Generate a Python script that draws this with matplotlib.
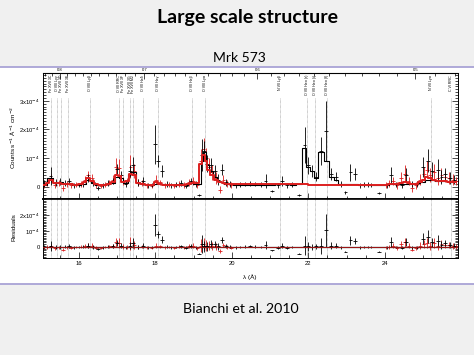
import numpy as np
import matplotlib
matplotlib.use("Agg")
import matplotlib.pyplot as plt
from matplotlib.patches import Rectangle
from matplotlib.lines import Line2D
from matplotlib.ticker import MultipleLocator, FixedLocator

# fluxes in units of 1e-4 counts s-1 A-1 cm-2, wavelengths in A (observed frame)
# RGS1 (black): wavelength, counts, error, model
lam_b = [15.10, 15.26, 15.40, 15.52, 15.63, 15.75, 15.88, 16.00, 16.12, 16.25,
         16.37, 16.50, 16.62, 16.75, 16.88, 17.00, 17.10, 17.22, 17.33, 17.42,
         17.55, 17.68, 17.80, 17.92, 18.00, 18.08, 18.18, 18.30, 18.42, 18.55,
         18.68, 18.80, 18.92, 19.05, 19.15, 19.22, 19.28, 19.35, 19.45, 19.55,
         19.65, 19.75, 19.85, 19.95, 20.10, 20.22, 20.35, 20.47, 20.60, 20.75,
         20.88, 21.05, 21.20, 21.32, 21.45, 21.58, 21.75, 21.90, 22.00, 22.10,
         22.20, 22.33, 22.47, 22.60, 22.72, 22.85, 22.97, 23.10, 23.22, 23.35,
         23.45, 23.55, 23.65, 23.85, 24.05, 24.17, 24.30, 24.45, 24.55, 24.70,
         24.85, 25.00, 25.12, 25.24, 25.38, 25.48, 25.58, 25.70, 25.82]
cnt_b = [0.10, 0.38, 0.15, 0.18, 0.12, 0.20, 0.05, 0.06, 0.10, 0.30,
         0.15, -0.05, 0.05, 0.12, 0.20, 0.62, 0.40, 0.10, 0.55, 0.75,
         0.15, 0.20, 0.05, 0.06, 1.48, 0.90, 0.55, 0.10, 0.05, 0.08,
         0.12, 0.03, 0.20, 0.10, -0.30, 1.10, 1.25, 0.80, 0.75, 0.55,
         0.25, 0.60, 0.15, 0.10, 0.05, 0.08, 0.10, 0.12, 0.10, 0.08,
         0.20, -0.15, 0.05, 0.20, 0.05, 0.08, -0.30, 1.45, 0.75, 0.55,
         0.35, 1.25, 1.95, 0.45, 0.35, 0.10, -0.20, 0.50, 0.45, 0.05,
         0.08, 0.08, 0.06, -0.22, 0.05, 0.40, 0.08, 0.05, 0.40, 0.10,
         0.10, 0.70, 0.90, 0.55, 0.60, 0.35, 0.45, 0.30, 0.25]
err_b = [0.12, 0.32, 0.12, 0.12, 0.10, 0.12, 0.08, 0.08, 0.10, 0.15,
         0.12, 0.06, 0.08, 0.10, 0.12, 0.18, 0.15, 0.10, 0.20, 0.30,
         0.12, 0.15, 0.08, 0.08, 0.68, 0.22, 0.20, 0.10, 0.08, 0.08,
         0.10, 0.08, 0.12, 0.10, 0.04, 0.55, 0.35, 0.30, 0.25, 0.20,
         0.20, 0.20, 0.12, 0.10, 0.08, 0.08, 0.08, 0.08, 0.08, 0.08,
         0.25, 0.04, 0.08, 0.18, 0.08, 0.08, 0.04, 0.62, 0.30, 0.20,
         0.15, 0.50, 1.05, 0.20, 0.15, 0.10, 0.04, 0.30, 0.20, 0.08,
         0.08, 0.08, 0.08, 0.03, 0.08, 0.30, 0.08, 0.08, 0.25, 0.10,
         0.10, 0.35, 0.40, 0.30, 0.35, 0.25, 0.20, 0.20, 0.15]
mod_b = [0.06, 0.32, 0.12, 0.15, 0.10, 0.12, 0.06, 0.06, 0.08, 0.22,
         0.12, 0.06, 0.06, 0.08, 0.12, 0.35, 0.30, 0.12, 0.45, 0.50,
         0.12, 0.10, 0.06, 0.06, 0.10, 0.08, 0.08, 0.06, 0.06, 0.06,
         0.06, 0.06, 0.12, 0.10, 0.10, 0.90, 1.20, 0.75, 0.55, 0.35,
         0.20, 0.15, 0.10, 0.08, 0.06, 0.06, 0.06, 0.06, 0.06, 0.06,
         0.06, 0.06, 0.08, 0.10, 0.08, 0.06, 0.10, 1.35, 0.70, 0.55,
         0.30, 1.20, 0.90, 0.35, 0.25, 0.10, 0.08, 0.08, 0.08, 0.06,
         0.06, 0.06, 0.06, 0.06, 0.06, 0.08, 0.08, 0.08, 0.10, 0.10,
         0.12, 0.18, 0.25, 0.25, 0.20, 0.20, 0.20, 0.18, 0.15]

# RGS2 (red): no data between 20 and 24 A (dead CCD)
lam_r = [15.08, 15.18, 15.28, 15.38, 15.48, 15.58, 15.68, 15.80, 15.92, 16.05,
         16.15, 16.25, 16.35, 16.45, 16.57, 16.68, 16.80, 16.90, 16.98, 17.06,
         17.15, 17.25, 17.35, 17.44, 17.55, 17.66, 17.78, 17.90, 18.02, 18.12,
         18.25, 18.37, 18.50, 18.62, 18.75, 18.87, 18.98, 19.10, 19.20, 19.26,
         19.32, 19.40, 19.48, 19.58, 19.68, 19.78, 19.88, 19.98,
         24.02, 24.12, 24.22, 24.32, 24.42, 24.52, 24.62, 24.72, 24.82, 24.92,
         25.02, 25.10, 25.18, 25.28, 25.38, 25.48, 25.58, 25.68, 25.78, 25.86]
cnt_r = [0.05, 0.15, 0.30, 0.05, 0.12, -0.05, 0.10, 0.05, 0.08, 0.10,
         0.25, 0.40, 0.30, 0.05, 0.02, 0.08, 0.15, 0.25, 0.70, 0.65,
         0.20, 0.20, 0.70, 0.55, 0.15, 0.12, 0.05, 0.02, 0.25, 0.15,
         0.05, 0.08, 0.02, 0.10, 0.05, 0.15, 0.20, 0.05, 0.90, 1.30,
         1.00, 0.70, 0.50, 0.30, -0.10, 0.25, 0.10, 0.05,
         0.05, 0.10, 0.20, 0.05, 0.30, 0.45, 0.20, -0.05, 0.05, 0.25,
         0.45, 0.60, 0.40, 0.50, 0.30, 0.40, 0.35, 0.30, 0.25, 0.20]
err_r = [0.10, 0.12, 0.15, 0.10, 0.10, 0.10, 0.10, 0.08, 0.08, 0.10,
         0.12, 0.15, 0.15, 0.08, 0.08, 0.08, 0.10, 0.15, 0.30, 0.30,
         0.15, 0.12, 0.40, 0.25, 0.12, 0.10, 0.08, 0.08, 0.15, 0.10,
         0.08, 0.08, 0.08, 0.10, 0.10, 0.12, 0.15, 0.10, 0.40, 0.40,
         0.35, 0.30, 0.25, 0.20, 0.12, 0.15, 0.12, 0.10,
         0.10, 0.12, 0.15, 0.12, 0.20, 0.30, 0.15, 0.12, 0.12, 0.20,
         0.25, 0.30, 0.25, 0.30, 0.25, 0.25, 0.20, 0.20, 0.20, 0.15]
mod_r = [0.05, 0.12, 0.25, 0.12, 0.12, 0.10, 0.10, 0.08, 0.06, 0.08,
         0.18, 0.30, 0.20, 0.08, 0.06, 0.06, 0.10, 0.18, 0.40, 0.38,
         0.18, 0.20, 0.45, 0.40, 0.12, 0.10, 0.06, 0.06, 0.15, 0.10,
         0.06, 0.06, 0.06, 0.06, 0.06, 0.10, 0.12, 0.12, 0.80, 1.10,
         0.90, 0.60, 0.40, 0.25, 0.15, 0.12, 0.10, 0.08,
         0.06, 0.08, 0.10, 0.08, 0.12, 0.15, 0.12, 0.10, 0.10, 0.15,
         0.25, 0.35, 0.30, 0.25, 0.20, 0.20, 0.20, 0.18, 0.18, 0.15]

# line identifications (observed wavelength)
line_lam = [15.26, 15.44, 15.53, 15.71, 16.28, 17.04, 17.15, 17.33, 17.41, 17.69,
            18.06, 18.95, 19.29, 21.25, 21.97, 22.17, 22.48, 25.20, 25.73]
line_name = ["Fe XVII 3C", "O VIII Ly\u03b3", "Fe XVII 3D", "Fe XVII 3E", "O VIII Ly\u03b2",
             "O VII RRC", "Fe XVII 3F", "Fe XVII 3G", "Fe XVII M2", "O VII He\u03b4",
             "O VII He\u03b3", "O VII He\u03b2", "O VIII Ly\u03b1", "N VII Ly\u03b2",
             "O VII He\u03b1 (r)", "O VII He\u03b1 (i)", "O VII He\u03b1 (f)",
             "N VII Ly\u03b1", "C VI RRC"]

# energy ticks on top (keV)
e_major = [0.8, 0.7, 0.6, 0.5]

hc = 12.398
red = "#dd1f1f"
plt.rcParams['font.family'] = ['Liberation Sans', 'DejaVu Sans']

fig = plt.figure(figsize=(4.74, 3.55), dpi=100)
fig.patch.set_facecolor("#f0f0f0")
W, H = 474.0, 355.0

# white band of the slide with the lavender lines
fig.add_artist(Rectangle((0, 1 - 284 / H), 1, (284 - 67) / H, transform=fig.transFigure,
                         facecolor="white", edgecolor="none", zorder=0))
for yy in [67, 284]:
    fig.add_artist(Line2D([0, 1], [1 - yy / H, 1 - yy / H], transform=fig.transFigure,
                          color="#a9a3d6", lw=1.3))

fig.text(247.5 / W, 1 - 17 / H, "Large scale structure", fontsize=14, fontweight="bold",
         ha="center", va="center", family=["Lato", "DejaVu Sans"])
fig.text(239.5 / W, 1 - 57.5 / H, "Mrk 573", fontsize=10, ha="center", va="center",
         family=["Lato", "DejaVu Sans"])
fig.text(241 / W, 1 - 308.7 / H, "Bianchi et al. 2010", fontsize=10.2, ha="center", va="center",
         family=["Lato", "DejaVu Sans"])

x0, x1 = 42.5 / W, 458.3 / W
ax = fig.add_axes([x0, 1 - 199.3 / H, x1 - x0, (199.3 - 73) / H])
axr = fig.add_axes([x0, 1 - 258.3 / H, x1 - x0, (258.3 - 199.3) / H], sharex=ax)

lam_b = np.array(lam_b); cnt_b = np.array(cnt_b); err_b = np.array(err_b); mod_b = np.array(mod_b)
lam_r = np.array(lam_r); cnt_r = np.array(cnt_r); err_r = np.array(err_r); mod_r = np.array(mod_r)

ytop = 3.1
ax.vlines(line_lam, -1, ytop, colors="#8a8a8a", linestyles=(0, (1, 1)), lw=0.45, zorder=1)
axr.vlines(line_lam, -1, 4, colors="#8a8a8a", linestyles=(0, (1, 1)), lw=0.45, zorder=1)
for l, name in zip(line_lam, line_name):
    ax.text(l, 3.9, name, rotation=90, fontsize=2.6, ha="center", va="top")

ekw = dict(fmt="none", elinewidth=0.6, capsize=0)
ax.errorbar(lam_b, cnt_b, yerr=err_b, xerr=0.05, ecolor="k", zorder=3, **ekw)
ax.errorbar(lam_r, cnt_r, yerr=err_r, xerr=0.05, ecolor=red, zorder=2, **ekw)
ax.plot(lam_b, mod_b, drawstyle="steps-mid", color="k", lw=0.8, zorder=4)
ax.plot(lam_r, mod_r, drawstyle="steps-mid", color=red, lw=1.4, zorder=5)

axr.axhline(0, color="k", lw=0.9, zorder=4)
axr.axhline(0, color=red, lw=0.5, zorder=5)
axr.errorbar(lam_b, cnt_b - mod_b, yerr=err_b, xerr=0.05, ecolor="k", zorder=3, **ekw)
axr.errorbar(lam_r, cnt_r - mod_r, yerr=err_r, xerr=0.05, ecolor=red, zorder=2, **ekw)

ax.set_xlim(15.05, 25.92)
ax.set_ylim(-0.44, 3.97)
axr.set_ylim(-0.7, 3.0)

for a in [ax, axr]:
    a.xaxis.set_major_locator(MultipleLocator(2))
    a.xaxis.set_minor_locator(MultipleLocator(0.5))
    a.yaxis.set_minor_locator(MultipleLocator(0.1))
    a.tick_params(which="both", direction="in", right=True, labelsize=4.2, pad=2, width=0.5)
    a.tick_params(which="major", length=4)
    a.tick_params(which="minor", length=2)
    for s in a.spines.values():
        s.set_linewidth(0.7)
ax.tick_params(labelbottom=False)
ax.spines["bottom"].set_linewidth(1.2)
axr.spines["top"].set_linewidth(1.2)

ax.yaxis.set_major_locator(FixedLocator([0, 1, 2, 3]))
ax.set_yticklabels(["0", "10$^{-4}$", "2x10$^{-4}$", "3x10$^{-4}$"])
axr.yaxis.set_major_locator(FixedLocator([0, 1, 2]))
axr.set_yticklabels(["0", "10$^{-4}$", "2x10$^{-4}$"])

# energy axis on top
sec = ax.secondary_xaxis("top", functions=(lambda l: hc / np.asarray(l, dtype=float),
                                           lambda e: hc / np.asarray(e, dtype=float)))
sec.xaxis.set_major_locator(FixedLocator(e_major))
sec.xaxis.set_minor_locator(MultipleLocator(0.01))
sec.set_xticklabels([str(e) for e in e_major])
sec.tick_params(which="both", direction="in", labelsize=3.0, pad=0.5, width=0.5)
sec.tick_params(which="major", length=4)
sec.tick_params(which="minor", length=2)
ax.tick_params(top=False)

fig.text(13.5 / W, 1 - 137 / H, "Counts s$^{-1}$ \u00c5$^{-1}$ cm$^{-2}$", rotation=90,
         fontsize=4.6, ha="center", va="center")
fig.text(13.5 / W, 1 - 227 / H, "Residuals", rotation=90, fontsize=4.6, ha="center", va="center")
fig.text(250 / W, 1 - 277.5 / H, "\u03bb (\u00c5)", fontsize=4.6, ha="center", va="center")

fig.savefig("out.png", dpi=100, facecolor=fig.get_facecolor())
